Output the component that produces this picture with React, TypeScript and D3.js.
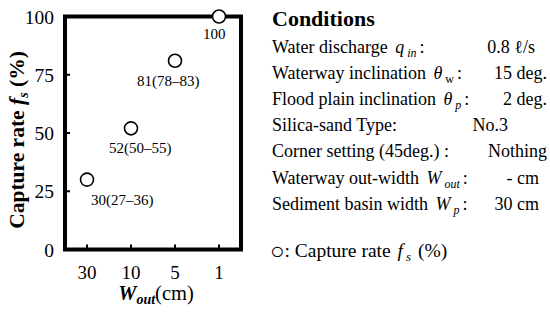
import React from 'react';
import * as d3 from 'd3';

// x categories: outlet width W_out (cm)
const widths = ['30', '10', '5', '1'];
// capture rate f_s (%), mean and range
const captureRate = [30, 52, 81, 100];
const captureRange = ['(27–36)', '(50–55)', '(78–83)', ''];
const yTicks = [0, 25, 50, 75, 100];

// right hand panel
const condLabels = [
  'Water discharge',
  'Waterway inclination',
  'Flood plain inclination',
  'Silica-sand Type:',
  'Corner setting (45deg.) :',
  'Waterway out-width',
  'Sediment basin width',
];
const condSymbols = [
  { main: 'q', sub: 'in', subItalic: true },
  { main: 'θ', sub: 'w', subItalic: false },
  { main: 'θ', sub: 'p', subItalic: true },
  null,
  null,
  { main: 'W', sub: 'out', subItalic: true },
  { main: 'W', sub: 'p', subItalic: true },
];
const condValues = ['0.8 ℓ/s', '15 deg.', '2 deg.', 'No.3', 'Nothing', '- cm', '30 cm'];

// layout (not data)
const labelOffset = [
  { dx: 4, dy: 25 },
  { dx: -22, dy: 25 },
  { dx: -38, dy: 25 },
  { dx: -16, dy: 22 },
];
const valueRight = [535, 547, 547, 508, 547, 539, 539];

const W = 550;
const H = 313;
const plot = { left: 65, right: 241, top: 16.5, bottom: 249.5 };
const serif = "'Liberation Serif', 'Times New Roman', serif";

export default function App() {
  const x = d3.scalePoint<string>().domain(widths).range([plot.left, plot.right]).padding(0.5);
  const y = d3.scaleLinear().domain([0, 100]).range([plot.bottom, plot.top]);

  const rowY = (i: number) => 53 + i * 26.1;

  return (
    <svg
      width={W}
      height={H}
      style={{ position: 'absolute', left: 0, top: 0, background: '#fff', fontFamily: serif }}
    >
      {/* y ticks + labels */}
      {yTicks.map(t => (
        <g key={'y' + t}>
          {t > 0 && t < 100 && (
            <line x1={plot.left} x2={plot.left + 5} y1={y(t)} y2={y(t)} stroke="#000" strokeWidth={2} />
          )}
          <text x={54} y={y(t) + 7} fontSize={19.5} textAnchor="end">{t}</text>
        </g>
      ))}
      {/* x ticks + labels */}
      {widths.map(w => (
        <g key={'x' + w}>
          <line x1={x(w)} x2={x(w)} y1={plot.bottom} y2={plot.bottom - 5} stroke="#000" strokeWidth={2} />
          <text x={x(w)} y={279} fontSize={19} textAnchor="middle">{w}</text>
        </g>
      ))}
      {/* frame */}
      <rect
        x={plot.left}
        y={plot.top}
        width={plot.right - plot.left}
        height={plot.bottom - plot.top}
        fill="none"
        stroke="#000"
        strokeWidth={4}
      />
      {/* points */}
      {widths.map((w, i) => (
        <circle key={'p' + w} cx={x(w)} cy={y(captureRate[i])} r={6.5} fill="#fff" stroke="#000" strokeWidth={1.6} />
      ))}
      {widths.map((w, i) => (
        <text
          key={'l' + w}
          x={(x(w) as number) + labelOffset[i].dx}
          y={y(captureRate[i]) + labelOffset[i].dy}
          fontSize={15}
        >
          {captureRate[i] + captureRange[i]}
        </text>
      ))}
      {/* axis titles */}
      <text x={156} y={300} fontSize={20.5} textAnchor="middle">
        <tspan fontWeight="bold" fontStyle="italic">W</tspan>
        <tspan fontWeight="bold" fontStyle="italic" fontSize={14} dy={4}>out</tspan>
        <tspan dy={-4}>(cm)</tspan>
      </text>
      <text
        transform={`translate(24,${(plot.top + plot.bottom) / 2 + 7}) rotate(-90)`}
        fontSize={21.5}
        fontWeight="bold"
        textAnchor="middle"
      >
        Capture rate <tspan fontStyle="italic">f</tspan>
        <tspan fontSize={14} dy={4} fontStyle="italic">s</tspan>
        <tspan dy={-4}> (%)</tspan>
      </text>

      {/* conditions panel */}
      <text x={272} y={26} fontSize={22} fontWeight="bold">Conditions</text>
      {condLabels.map((lab, i) => {
        const s = condSymbols[i];
        return (
          <text key={'c' + i} x={272} y={rowY(i)} fontSize={18}>
            {lab}
            {s && (
              <>
                <tspan fontStyle="italic" dx={3}> {s.main}</tspan>
                <tspan fontSize={12} dy={4} dx={3} fontStyle={s.subItalic ? 'italic' : 'normal'}>{s.sub}</tspan>
                <tspan dy={-4} dx={3}>:</tspan>
              </>
            )}
          </text>
        );
      })}
      {condValues.map((v, i) => (
        <text key={'v' + i} x={valueRight[i]} y={rowY(i)} fontSize={18} textAnchor="end">{v}</text>
      ))}
      <text x={270} y={257} fontSize={19.5}>
        <tspan fontSize={24} dy={2}>○</tspan>
        <tspan dy={-2}>: Capture rate </tspan>
        <tspan fontStyle="italic" dx={2}>f</tspan>
        <tspan fontSize={13} dy={4} dx={3} fontStyle="italic">s</tspan>
        <tspan dy={-4} dx={7}>(%)</tspan>
      </text>
    </svg>
  );
}
